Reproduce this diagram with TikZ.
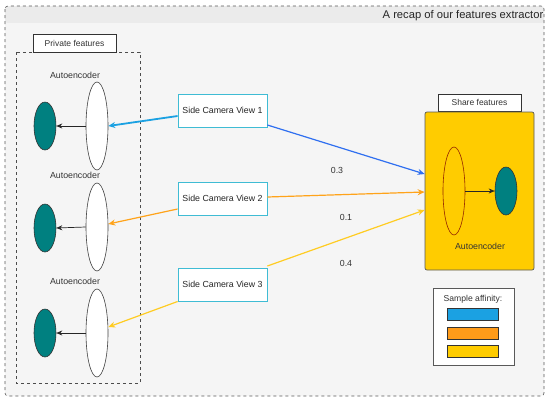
\documentclass[tikz,border=0pt]{standalone}
\usepackage{fontspec}
\setmainfont{Liberation Sans}
\usetikzlibrary{shapes.geometric,arrows.meta,calc}
\definecolor{bgc}{HTML}{F5F5F5}
\definecolor{hdr}{HTML}{EBEBEB}
\definecolor{teal1}{HTML}{008080}
\definecolor{camb}{HTML}{3FBCD4}
\definecolor{cyanA}{HTML}{1BA1E2}
\definecolor{blueA}{HTML}{2F6FF0}
\definecolor{orangeA}{HTML}{FFA31A}
\definecolor{yellowA}{HTML}{FFCC22}
\definecolor{goldF}{HTML}{FFCC00}
\definecolor{txt}{HTML}{333333}
\tikzset{
  white ell/.style={ellipse,draw=black!75,fill=white,minimum width=22pt,minimum height=88pt,inner sep=0pt,line width=0.6pt},
  teal ell/.style={ellipse,draw=black!80,fill=teal1,minimum width=22pt,minimum height=48pt,inner sep=0pt,line width=0.6pt},
  cam/.style={draw=camb,fill=white,line width=0.8pt,minimum width=89pt,minimum height=33pt,inner sep=0pt,font=\fontsize{8.8}{10}\selectfont,text=black!85},
  lbl/.style={font=\fontsize{8.8}{10}\selectfont,text=txt},
  tagbox/.style={draw=black!80,fill=white,line width=0.6pt,inner sep=0pt,font=\fontsize{8.5}{10}\selectfont,text=txt},
  blk/.style={-{Stealth[length=6pt,width=5pt]},line width=0.7pt,draw=black!85},
  carrow/.style={-{Stealth[length=7pt,width=6pt]},line width=1.2pt},
  bar/.style={draw=black!80,line width=0.6pt,minimum width=51pt,minimum height=12pt,inner sep=0pt}
}
\begin{document}
\begin{tikzpicture}[x=1pt,y=-1pt]
\useasboundingbox (0,0) rectangle (550,402);
% outer frame
\fill[white] (0,0) rectangle (550,402);
\path[fill=bgc,rounded corners=3pt] (5,6) rectangle (544,396);
\path[fill=hdr,rounded corners=3pt] (5,6) rectangle (544,23);
\fill[bgc] (5,23) rectangle (544,26);
\draw[black!65,dashed,line width=0.6pt,rounded corners=3pt] (5,6) rectangle (544,396);
\node[anchor=east,font=\fontsize{11.2}{13}\selectfont,text=black!85,inner sep=0pt] (title) at (543.5,16) {A recap of our features extractor};

% private features
\draw[black!70,dashed,line width=0.6pt] (16,52) rectangle (140,383);
\node[tagbox,minimum width=83pt,minimum height=18pt] (priv) at (74.5,43) {Private features};

\node[lbl] (ae1) at (75,75) {Autoencoder};
\node[lbl] (ae2) at (75,175) {Autoencoder};
\node[lbl] (ae3) at (75,281) {Autoencoder};

\node[white ell] (e1) at (97,126) {};
\node[white ell] (e2) at (97,227) {};
\node[white ell] (e3) at (97,333) {};
\node[teal ell] (t1) at (45,126) {};
\node[teal ell] (t2) at (45,228) {};
\node[teal ell] (t3) at (45,333) {};
\draw[blk] (e1.west) -- (t1.east);
\draw[blk] (e2.west) -- (t2.east);
\draw[blk] (e3.west) -- (t3.east);

% camera views
\node[cam] (c1) at (222.5,110.5) {Side Camera View 1};
\node[cam] (c2) at (222.5,198.5) {Side Camera View 2};
\node[cam] (c3) at (222.5,284.5) {Side Camera View 3};

% share features
\node[tagbox,minimum width=83pt,minimum height=17pt] (share) at (479.5,102.5) {Share features};
\node[draw=black!65,fill=goldF,rounded corners=2pt,line width=0.7pt,minimum width=109pt,minimum height=158pt,inner sep=0pt] (sbox) at (479.5,191) {};
\node[ellipse,draw=black!70!goldF!60!red,fill=goldF,minimum width=22pt,minimum height=88pt,inner sep=0pt,line width=0.6pt] (se) at (454,191) {};
\node[teal ell] (st) at (506,191) {};
\draw[blk] (se.east) -- (st.west);
\node[lbl] (sae) at (480,246) {Autoencoder};

% colored connectors
\draw[carrow,cyanA,line width=1.8pt] ($(c1.west)+(0,5.5)$) -- (e1.east);
\draw[carrow,orangeA] ($(c2.west)+(0,10.5)$) -- ($(e2.east)+(0,-3)$);
\draw[carrow,yellowA] ($(c3.west)+(0,17)$) -- ($(e3.east)+(0,-6)$);

\draw[carrow,blueA] ($(c1.east)+(0,14.5)$) -- ($(sbox.west)+(0,-17)$);
\draw[carrow,orangeA] ($(c2.east)+(0,-1.5)$) -- ($(sbox.west)+(0,1)$);
\draw[carrow,yellowA] ($(c3.east)+(0,-18.5)$) -- ($(sbox.west)+(0,19)$);

\node[lbl] (w1) at (337,170) {0.3};
\node[lbl] (w2) at (346,217) {0.1};
\node[lbl] (w3) at (346,263.5) {0.4};

% legend
\node[draw=black!65,fill=white,line width=0.7pt,minimum width=81pt,minimum height=77pt,inner sep=0pt] (leg) at (473.5,326.5) {};
\node[lbl,font=\fontsize{8.6}{10}\selectfont] (legt) at (473,299) {Sample affinity:};
\node[bar,fill=cyanA] (b1) at (472.5,314.5) {};
\node[bar,fill=orangeA!95!red] (b2) at (472.5,333) {};
\node[bar,fill=goldF] (b3) at (473,351) {};
\end{tikzpicture}
\end{document}
